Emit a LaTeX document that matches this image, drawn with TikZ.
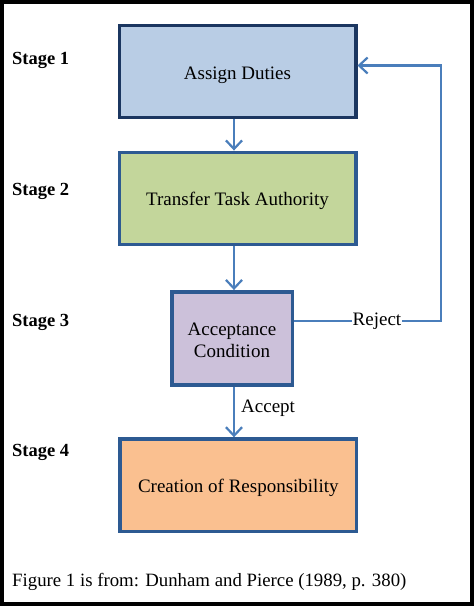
\documentclass[tikz,border=0pt]{standalone}
\usepackage{fontspec}
\setmainfont{Liberation Serif}
\usetikzlibrary{arrows.meta}
\definecolor{fillA}{HTML}{B9CDE5}
\definecolor{fillB}{HTML}{C3D69B}
\definecolor{fillC}{HTML}{CCC1DA}
\definecolor{fillD}{HTML}{FAC090}
\definecolor{edgeA}{HTML}{1B3660}
\definecolor{edgeB}{HTML}{2D5A92}
\definecolor{flowc}{HTML}{4A7EBB}
\tikzset{
  box/.style={draw, line width=3.5pt, minimum width=236.5pt, minimum height=92pt, inner sep=2pt, align=center, font=\fontsize{19}{21.5}\selectfont},
  onebox/.style={box, text height=19pt, text depth=4pt},
  stagelbl/.style={anchor=base west, inner sep=0pt, font=\fontsize{18.5}{21}\selectfont\bfseries},
  flow/.style={draw=flowc, line width=2.2pt, -{Straight Barb[length=8.5pt,width=16pt,line width=2.2pt]}},
  lbl/.style={anchor=base west, inner sep=0.5pt, font=\fontsize{19}{21}\selectfont}
}
\begin{document}
\begin{tikzpicture}[x=1pt,y=-1pt]
\useasboundingbox (0,0) rectangle (474,606);
\draw[line width=4pt] (2,2) rectangle (472,604);
\node[onebox, draw=edgeA, fill=fillA] (b1) at (237.5,71.5) {Assign Duties};
\node[onebox, draw=edgeB, fill=fillB] (b2) at (237.5,198.3) {Transfer Task Authority};
\node[box, draw=edgeB, fill=fillC, minimum width=120.5pt, minimum height=93pt] (b3) at (232,338.3) {\rule{0pt}{17pt}Acceptance\\Condition};
\node[onebox, draw=edgeB, fill=fillD, minimum height=92.5pt] (b4) at (238.3,485.3) {Creation of Responsibility};
\node[stagelbl] (s1) at (12,64.5) {Stage 1};
\node[stagelbl] (s2) at (12,195) {Stage 2};
\node[stagelbl] (s3) at (12,326) {Stage 3};
\node[stagelbl] (s4) at (12,456.5) {Stage 4};
\coordinate (ax) at (234,0);
\draw[flow] (b1.south -| ax) -- (b2.north -| ax);
\draw[flow] (b2.south -| ax) -- (b3.north -| ax);
\draw[flow] (b3.south -| ax) -- (b4.north -| ax);
\node[lbl] (acc) at (240.5,412.5) {Accept};
\coordinate (r1) at (441,321);
\coordinate (r2) at (441,65.5);
\draw[flow] (b3.east |- r1) -- (r1) -- (r2) -- (b1.east |- r2);
\node[lbl, fill=white] (rej) at (352,325) {Reject};
\node[lbl, inner sep=0pt, font=\fontsize{18.8}{21}\selectfont] (cap) at (12,586) {Figure 1 is from: Dunham and Pierce (1989, p. 380)};
\end{tikzpicture}
\end{document}
